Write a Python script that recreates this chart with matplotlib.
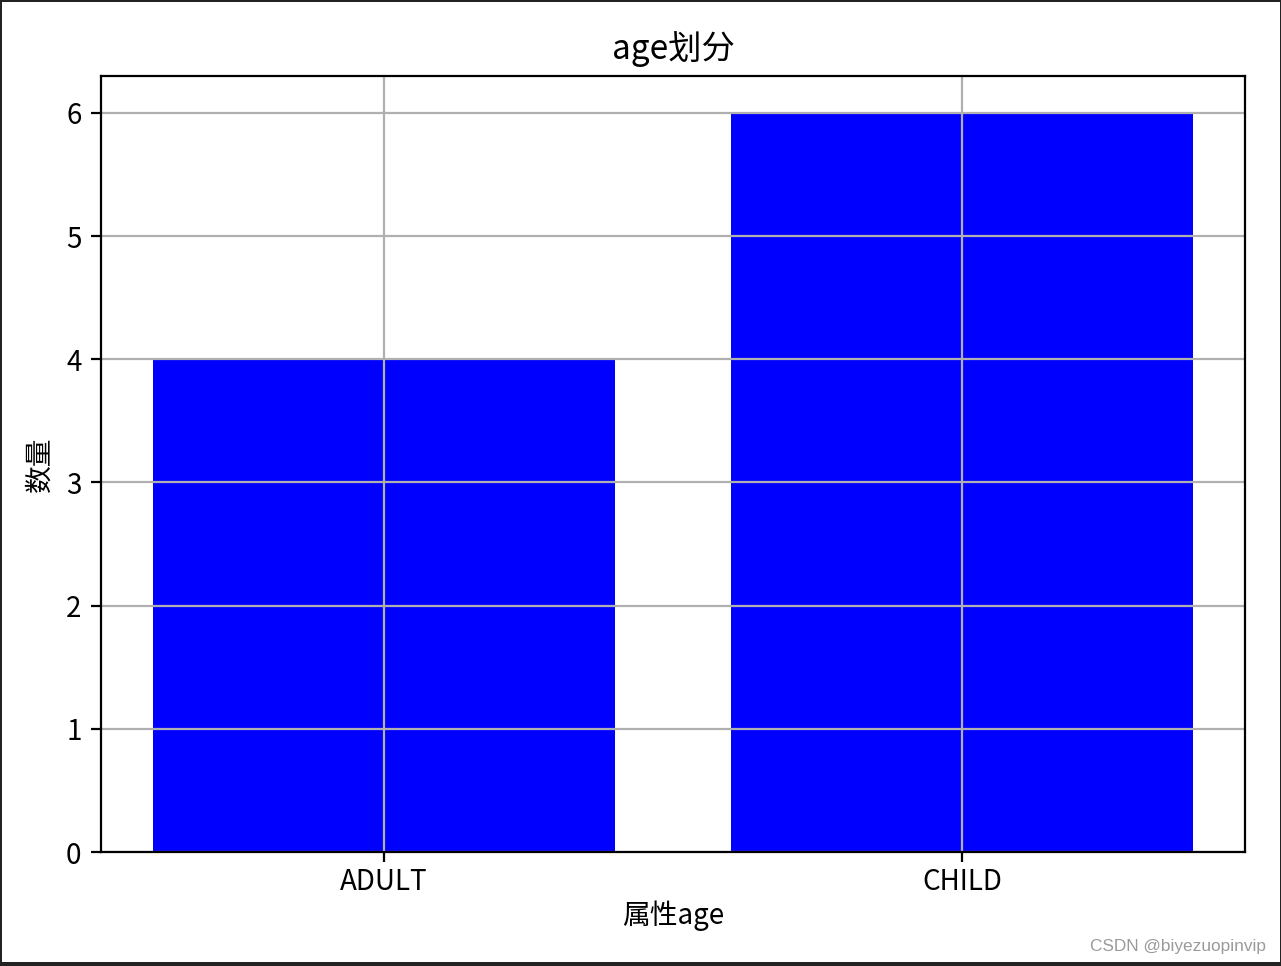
import matplotlib
matplotlib.use("Agg")
import matplotlib.pyplot as plt
import matplotlib.patches as mpatches

plt.rcParams["font.family"] = ["Noto Sans CJK SC", "DejaVu Sans"]
plt.rcParams["axes.unicode_minus"] = False

# data
categories = ["ADULT", "CHILD"]
counts = [4, 6]

W, H, DPI = 1281, 966, 200
fig = plt.figure(figsize=(W / DPI, H / DPI), dpi=DPI)
fig.patch.set_facecolor("white")

ax = fig.add_axes([101 / W, 1 - 852 / H, (1245 - 101) / W, (852 - 76) / H])
ax.bar(categories, counts, color="blue", width=0.8)
ax.grid(True)
ax.tick_params(axis="x", pad=2)
ax.set_title("age划分", fontsize=12)
ax.set_xlabel("属性age", labelpad=1)
ax.set_ylabel("数量")

# screenshot frame
frame = "#222222"
for (x0, y0, w, h) in [(0, H - 2, W, 2), (0, 0, 2, H), (0, 0, W, 4), (W - 1, 0, 1, H)]:
    fig.patches.append(mpatches.Rectangle((x0 / W, y0 / H), w / W, h / H,
                                          transform=fig.transFigure,
                                          facecolor=frame, edgecolor="none"))

# watermark
fig.text(1266 / W, 1 - 946 / H, "CSDN @biyezuopinvip", ha="right", va="center",
         fontsize=6.2, color="#9a9a9a", family=["Liberation Sans", "DejaVu Sans"])

fig.savefig("out.png", dpi=DPI, facecolor="white")
